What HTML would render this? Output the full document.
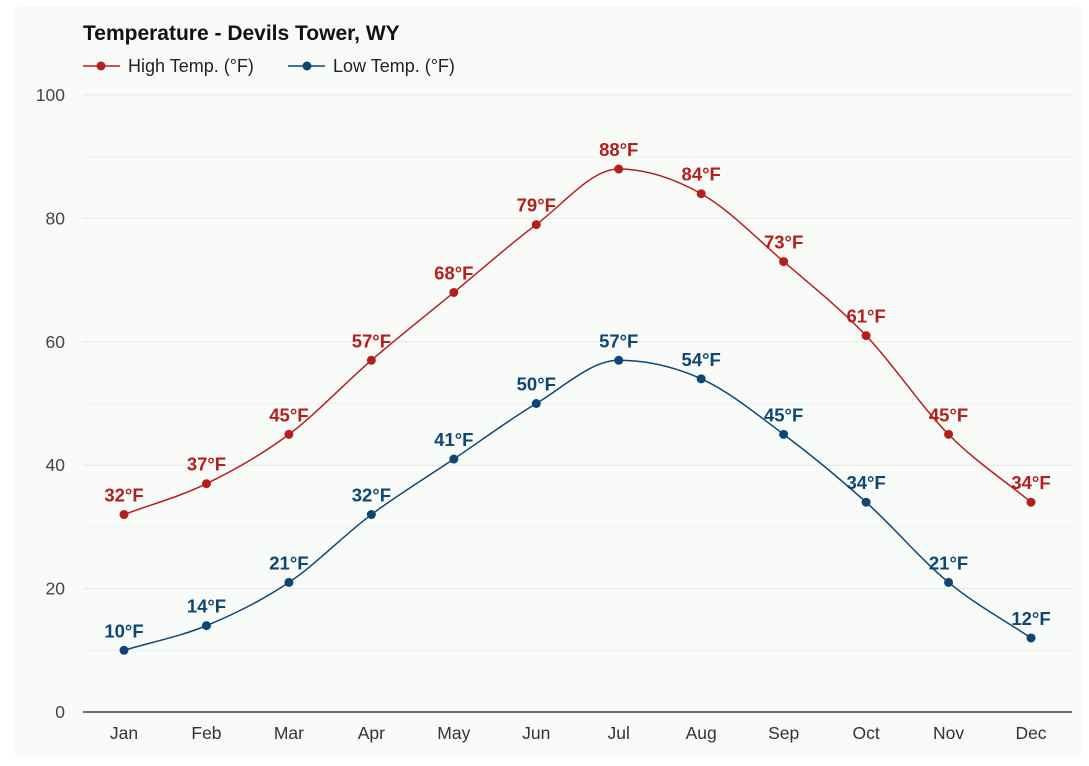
<!DOCTYPE html>
<html><head><meta charset="utf-8"><style>
html,body{margin:0;padding:0;background:#fff;}
svg{display:block;font-family:"Liberation Sans",Arial,sans-serif;}
</style></head><body>
<svg id="chart" width="1089" height="766" viewBox="0 0 1089 766">
<rect x="14" y="6" width="1068" height="752" rx="8" fill="#f9fbf9"/>
<text x="83" y="40" font-size="21" font-weight="bold" fill="#111">Temperature - Devils Tower, WY</text>
<g>
<line x1="83" y1="66" x2="120" y2="66" stroke="#b2201e" stroke-width="1.5"/><circle cx="101" cy="66" r="4.5" fill="#b2201e"/>
<text x="128" y="72" font-size="18" fill="#222">High Temp. (°F)</text></g>
<g>
<line x1="288" y1="66" x2="325" y2="66" stroke="#0e4673" stroke-width="1.5"/><circle cx="307" cy="66" r="4.5" fill="#0e4673"/>
<text x="333" y="72" font-size="18" fill="#222">Low Temp. (°F)</text></g>
<g id="grid"></g><g id="series"></g>
</svg>
<script>
const categories=["Jan","Feb","Mar","Apr","May","Jun","Jul","Aug","Sep","Oct","Nov","Dec"];
const highValues=[32,37,45,57,68,79,88,84,73,61,45,34];
const lowValues=[10,14,21,32,41,50,57,54,45,34,21,12];
const yTicks=[0,20,40,60,80,100];
const minorTicks=[10,30,50,70,90];
const NS="http://www.w3.org/2000/svg";
const X0=124,XSTEP=(1031-124)/11,Y0=712,Y100=95;
const xs=i=>X0+i*XSTEP, ys=v=>Y0-(v/100)*(Y0-Y100);
function mk(t,a,p){const e=document.createElementNS(NS,t);for(const k in a)e.setAttribute(k,a[k]);(p||document.getElementById('series')).appendChild(e);return e;}
const grid=document.getElementById('grid');
minorTicks.forEach(v=>{const l=mk('line',{x1:83,x2:1072,y1:ys(v),y2:ys(v),stroke:'#f0f2f0','stroke-width':1},grid);

});
yTicks.forEach(v=>{if(v>0){const l=mk('line',{x1:83,x2:1072,y1:ys(v),y2:ys(v),stroke:'#e6e8e6','stroke-width':1},grid);

}
const t=mk('text',{x:65,y:ys(v)+6,'font-size':17.5,fill:'#444','text-anchor':'end'},grid);t.textContent=v;

});
const ax=mk('line',{x1:83,x2:1072,y1:Y0,y2:Y0,stroke:'#444','stroke-width':1.5},grid);


categories.forEach((c,i)=>{const t=mk('text',{x:xs(i),y:739,'font-size':17.5,fill:'#333','text-anchor':'middle'},grid);t.textContent=c;

});
function smooth(pts){let d=`M${pts[0][0]},${pts[0][1]}`;const n=pts.length,m=[];
const dl=[];for(let i=0;i<n-1;i++)dl.push((pts[i+1][1]-pts[i][1])/(pts[i+1][0]-pts[i][0]));
for(let i=0;i<n;i++){if(i==0)m.push(dl[0]);else if(i==n-1)m.push(dl[n-2]);else m.push(dl[i-1]*dl[i]<=0?0:(dl[i-1]+dl[i])/2);}
for(let i=0;i<n-1;i++){const h=(pts[i+1][0]-pts[i][0])/3;
d+=` C${pts[i][0]+h},${pts[i][1]+m[i]*h} ${pts[i+1][0]-h},${pts[i+1][1]-m[i+1]*h} ${pts[i+1][0]},${pts[i+1][1]}`;}return d;}
function series(vals,color,name){
const pts=vals.map((v,i)=>[xs(i),ys(v)]);
const p=mk('path',{d:smooth(pts),fill:'none',stroke:color,'stroke-width':1.5});


vals.forEach((v,i)=>{const c=mk('circle',{cx:xs(i),cy:ys(v),r:4.5,fill:color});


const t=mk('text',{x:xs(i),y:ys(v)-13,'font-size':18.5,'font-weight':'bold',fill:color,'text-anchor':'middle'});t.textContent=v+'°F';

});}
series(highValues,'#b2201e','high-temp');
series(lowValues,'#0e4673','low-temp');
</script>
</body></html>
